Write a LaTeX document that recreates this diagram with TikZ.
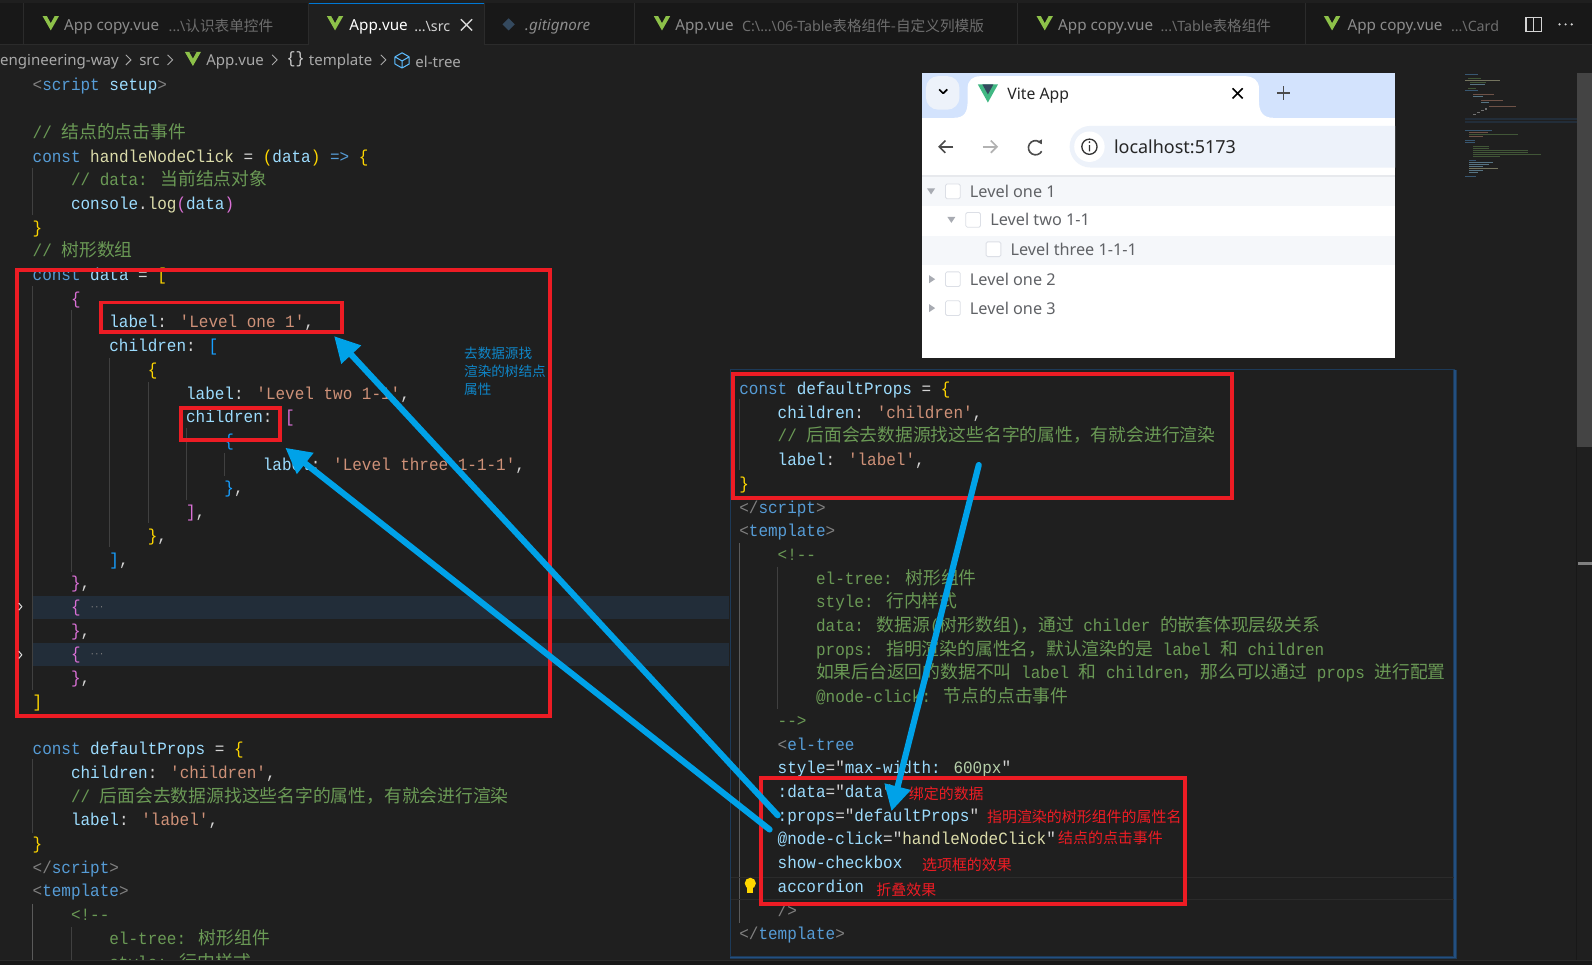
\documentclass[tikz,border=0pt]{standalone}
\usepackage{fontspec}
\setmainfont{Noto Sans}
\newfontfamily\cjk[Scale=1.03]{Noto Sans CJK SC}
\newfontfamily\codefont[FakeStretch=0.926]{Liberation Mono}
\usetikzlibrary{arrows.meta, positioning}

\definecolor{editorbg}{HTML}{1F1F1F}
\definecolor{tabbg}{HTML}{181818}
\definecolor{tabline}{HTML}{2B2B2B}
\definecolor{tabtext}{HTML}{8C8C8C}
\definecolor{tabdim}{HTML}{6E6E6E}
\definecolor{crumbtext}{HTML}{A9A9A9}
\definecolor{guidegray}{HTML}{404040}
\definecolor{guidelight}{HTML}{5A5A5A}
\definecolor{foldband}{HTML}{222D39}
\definecolor{scrollgray}{HTML}{444444}
\definecolor{panelblue}{HTML}{1D3A58}
\definecolor{panelcore}{HTML}{234F80}
\definecolor{vuegreen}{HTML}{8DC149}
\definecolor{redmark}{HTML}{ED1C24}
\definecolor{arrowblue}{HTML}{00A2E8}
\definecolor{notetext}{HTML}{0F86C8}
\definecolor{kwblue}{HTML}{569CD6}
\definecolor{activeblue}{HTML}{0078D4}
\definecolor{varblue}{HTML}{9CDCFE}
\definecolor{fnyellow}{HTML}{DCDCAA}
\definecolor{strorange}{HTML}{CE9178}
\definecolor{numgreen}{HTML}{B5CEA8}
\definecolor{cmtgreen}{HTML}{6A9955}
\definecolor{plaintext}{HTML}{D4D4D4}
\definecolor{tagangle}{HTML}{808080}
\definecolor{brkyellow}{HTML}{FFD700}
\definecolor{brkpink}{HTML}{DA70D6}
\definecolor{brkblue}{HTML}{179FFF}
\definecolor{stripblue}{HTML}{D3E3FD}
\definecolor{pillblue}{HTML}{EDF2FA}
\definecolor{rowgray}{HTML}{F5F7FA}
\definecolor{treetextgray}{HTML}{606266}
\definecolor{treeline}{HTML}{DCDFE6}
\definecolor{treearrow}{HTML}{A8ABB2}
\definecolor{vuedark}{HTML}{34495E}
\definecolor{vuemint}{HTML}{41B883}

\newcommand{\zh}[1]{{\cjk #1}}
\newcommand{\fwc}{{\cjk\char"FF0C\relax}}
\newcommand{\cind}[1]{\hspace*{#1\dimexpr 9.445pt\relax}}
\newcommand{\ckw}[1]{\textcolor{kwblue}{#1}}
\newcommand{\cvar}[1]{\textcolor{varblue}{#1}}
\newcommand{\cfn}[1]{\textcolor{fnyellow}{#1}}
\newcommand{\cstr}[1]{\textcolor{strorange}{#1}}
\newcommand{\ccmt}[1]{\textcolor{cmtgreen}{#1}}
\newcommand{\cpl}[1]{\textcolor{plaintext}{#1}}
\newcommand{\cang}[1]{\textcolor{tagangle}{#1}}
\newcommand{\cyel}[1]{\textcolor{brkyellow}{#1}}
\newcommand{\cpnk}[1]{\textcolor{brkpink}{#1}}
\newcommand{\cblu}[1]{\textcolor{brkblue}{#1}}
\newcommand{\cfold}{\textcolor{tagangle}{\raisebox{3pt}{\fontsize{8}{8}\selectfont\bfseries ···}}}

\tikzset{
  codeblock/.style={anchor=north west, inner sep=0pt, align=left, font=\codefont\fontsize{17}{23.35}\selectfont},
  tablabel/.style={anchor=west, inner sep=0pt, text=tabtext, font=\fontsize{15}{17}\selectfont},
  tabnote/.style={anchor=west, inner sep=0pt, text=tabdim, font=\fontsize{14}{17}\selectfont},
  crumb/.style={anchor=west, inner sep=0pt, text=crumbtext, font=\fontsize{14.8}{17}\selectfont},
  redbox/.style={draw=redmark, line width=3.8pt, anchor=north west, inner sep=0pt, outer sep=0pt},
  rednote/.style={anchor=west, inner sep=0pt, text=redmark, font=\fontsize{14.3}{17}\selectfont},
  bluenote/.style={anchor=north west, inner sep=0pt, align=left, text=notetext, font=\fontsize{13}{17.5}\selectfont},
  bluearrow/.style={draw=arrowblue, line width=6pt, line cap=round, -{Triangle[length=25pt,width=25pt]}},
  guide/.style={draw=guidegray, line width=0.8pt},
  guidebright/.style={draw=guidelight, line width=0.8pt},
  chevron/.style={draw=crumbtext, line width=0.9pt},
  treebox/.style={draw=treeline, fill=white, rounded corners=1.5pt, minimum size=14.5pt, inner sep=0pt, line width=0.8pt},
  treetext/.style={inner sep=0pt, text=treetextgray, font=\fontsize{16}{19}\selectfont},
  navicon/.style={draw=#1, line width=1.6pt},
  vuelogo/.pic={
    \fill[vuegreen] (-8,-7) -- (8,-7) -- (0,7) -- cycle;
    \fill[#1] (-3.6,-7) -- (3.6,-7) -- (0,-0.5) -- cycle;
  },
  vitelogo/.pic={
    \fill[vuemint] (-10,-9) -- (10,-9) -- (0,9) -- cycle;
    \fill[vuedark] (-5.5,-9) -- (5.5,-9) -- (0,1) -- cycle;
  }
}

\begin{document}
\begin{tikzpicture}[x=1pt, y=-1pt]
  \useasboundingbox (0,0) rectangle (1568,950.5);
  \fill[editorbg] (0,0) rectangle (1568,950.5);

  % tab bar
  \fill[tabbg] (0,3) rectangle (1568,44);
  \draw[draw=tabline, line width=1pt] (0,44) -- (1568,44);
  \fill[editorbg] (304,3) rectangle (477,45);
  \draw[draw=activeblue, line width=1pt] (304,3) -- (477,3);
  \foreach \sx in {23,304,477,625,1002,1286}
    \draw[draw=tabline, line width=1pt] (\sx,3) -- (\sx,44);
  \foreach \ix/\ic in {50/tabbg, 330/editorbg, 652/tabbg, 1029/tabbg, 1312/tabbg}
    \pic at (\ix,23) {vuelogo=\ic};
  \node[tablabel] (tabforms) at (63,26) {App copy.vue};
  \node[tabnote, right=9pt of tabforms] (tabformsnote) {...\textbackslash\zh{认识表单控件}};
  \node[tablabel, text=white] (tabmain) at (344,26) {App.vue};
  \node[tabnote, text=plaintext, right=6pt of tabmain] (tabmainnote) {...\textbackslash src};
  \draw[draw=plaintext, line width=1.5pt] (454,19) -- (465,30) (465,19) -- (454,30);
  \fill[vuedark] (501,18) -- (507,24) -- (501,30) -- (495,24) -- cycle;
  \node[tablabel, font=\fontsize{15}{17}\selectfont\itshape] (tabignore) at (517,26) {.gitignore};
  \node[tablabel] (tabcustom) at (665,26) {App.vue};
  \node[tabnote, right=8pt of tabcustom] (tabcustomnote) {C:\textbackslash...\textbackslash 06-Table\zh{表格组件-自定义列模版}};
  \node[tablabel] (tabtable) at (1042,26) {App copy.vue};
  \node[tabnote, right=7pt of tabtable] (tabtablenote) {...\textbackslash Table\zh{表格组件}};
  \node[tablabel] (tabcard) at (1327,26) {App copy.vue};
  \node[tabnote, right=8pt of tabcard] (tabcardnote) {...\textbackslash Card};
  \draw[draw=plaintext, line width=1.2pt] (1503,17) rectangle (1518,31) (1510.5,17) -- (1510.5,31);
  \foreach \dx in {1536,1542,1548}
    \fill[plaintext] (\dx,24) circle (1.2);

  % breadcrumb
  \node[crumb] (crumbroot) at (0,60.5) {engineering-way};
  \node[crumb] (crumbsrc) at (137,60.5) {src};
  \pic at (190,58) {vuelogo=editorbg};
  \node[crumb] (crumbapp) at (203,60.5) {App.vue};
  \node[crumb, font=\codefont\fontsize{16}{17}\selectfont, text=plaintext] (crumbbrace) at (282,58.5) {\{\}};
  \node[crumb] (crumbtemplate) at (304,60.5) {template};
  \node[crumb] (crumbtree) at (409,60.5) {el-tree};
  \foreach \cx in {124,165,268,375}
    \draw[chevron] (\cx,54) -- (\cx+5,59) -- (\cx,64);
  \draw[draw=brkblue!70!white, line width=1pt, line join=round]
    (396,52) -- (403,56) -- (403,63) -- (396,67) -- (389,63) -- (389,56) -- cycle
    (389,56) -- (396,60) -- (403,56) (396,60) -- (396,67);

  % fold bands and scrollbar
  \fill[foldband] (32.5,587) rectangle (718,610);
  \fill[foldband] (32.5,633) rectangle (718,656);
  \fill[scrollgray] (1553,72) rectangle (1568,440);
  \draw[draw=tabbg, line width=0.8pt] (1553,440) -- (1553,946);
  \fill[gray] (1554,554) rectangle (1568,556);

  % minimap
  \fill[foldband] (1443,115.8) rectangle (1553,118);
  \fill[foldband] (1443,119.2) rectangle (1553,121.4);
  \foreach \my/\mx/\ml/\mc in {72.6/1443/13/kwblue, 76.6/1446/13/cmtgreen, 78.6/1443/34/fnyellow, 80.5/1448/16/cmtgreen,
      82.5/1448/15/varblue, 86.5/1446/8/cmtgreen, 88.4/1443/13/kwblue, 92.4/1451/20/strorange, 94.4/1451/10/varblue,
      98.3/1459/21/strorange, 100.3/1459/8/varblue, 104.3/1467/26/strorange, 106.5/1463/2/plaintext, 108/1459/3/plaintext,
      110/1455/3/plaintext, 112/1451/3/plaintext, 128/1443/26/kwblue, 129.8/1447/19/strorange, 131.8/1447/48/cmtgreen,
      133.8/1447/14/strorange, 137.7/1443/10/kwblue, 139.7/1443/10/kwblue, 143.6/1451/16/cmtgreen, 145.6/1451/16/cmtgreen,
      147.6/1451/54/cmtgreen, 149.6/1451/54/cmtgreen, 151.5/1451/67/cmtgreen, 153.5/1451/26/cmtgreen, 157.5/1447/7/kwblue,
      159.5/1447/23/varblue, 161.4/1447/20/varblue, 163.4/1447/14/varblue, 165.4/1447/28/fnyellow, 167.4/1447/14/varblue,
      169.3/1447/9/varblue, 173.3/1443/11/kwblue}
    \fill[\mc!45!editorbg] (\mx,\my) rectangle (\mx+\ml,\my+1.5);

  % indent guides
  \foreach \gx/\gt/\gb in {32/165/212, 32/282/680, 70/305/563, 108/353/539, 146/376/515, 184/422/492,
      221/446/469, 32/748/820, 70/913/946}
    \draw[guide] (\gx,\gt) -- (\gx,\gb);
  \draw[guidebright] (32,890) -- (32,946);

  % left code
  \begin{scope}
    \clip (0,72) rectangle (718,946);
    \node[codeblock] (leftcode) at (32,77) {%
      \cang{<}\ckw{script} \cvar{setup}\cang{>}\\
      \mbox{}\\
      \ccmt{// \zh{结点的点击事件}}\\
      \ckw{const} \cfn{handleNodeClick} \cpl{=} \cyel{(}\cvar{data}\cyel{)} \ckw{=>} \cyel{\{}\\
      \cind{4}\ccmt{// data: \zh{当前结点对象}}\\
      \cind{4}\cvar{console}\cpl{.}\cfn{log}\cpnk{(}\cvar{data}\cpnk{)}\\
      \cyel{\}}\\
      \ccmt{// \zh{树形数组}}\\
      \ckw{const} \cvar{data} \cpl{=} \cyel{[}\\
      \cind{4}\cpnk{\{}\\
      \cind{8}\cvar{label}\cpl{:} \cstr{'Level one 1'}\cpl{,}\\
      \cind{8}\cvar{children}\cpl{:} \cblu{[}\\
      \cind{12}\cyel{\{}\\
      \cind{16}\cvar{label}\cpl{:} \cstr{'Level two 1-1'}\cpl{,}\\
      \cind{16}\cvar{children}\cpl{:} \cpnk{[}\\
      \cind{20}\cblu{\{}\\
      \cind{24}\cvar{label}\cpl{:} \cstr{'Level three 1-1-1'}\cpl{,}\\
      \cind{20}\cblu{\}}\cpl{,}\\
      \cind{16}\cpnk{]}\cpl{,}\\
      \cind{12}\cyel{\}}\cpl{,}\\
      \cind{8}\cblu{]}\cpl{,}\\
      \cind{4}\cpnk{\}}\cpl{,}\\
      \cind{4}\cpnk{\{} \cfold\\
      \cind{4}\cpnk{\}}\cpl{,}\\
      \cind{4}\cpnk{\{} \cfold\\
      \cind{4}\cpnk{\}}\cpl{,}\\
      \cyel{]}\\
      \mbox{}\\
      \ckw{const} \cvar{defaultProps} \cpl{=} \cyel{\{}\\
      \cind{4}\cvar{children}\cpl{:} \cstr{'children'}\cpl{,}\\
      \cind{4}\ccmt{// \zh{后面会去数据源找这些名字的属性}\fwc\zh{有就会进行渲染}}\\
      \cind{4}\cvar{label}\cpl{:} \cstr{'label'}\cpl{,}\\
      \cyel{\}}\\
      \cang{</}\ckw{script}\cang{>}\\
      \cang{<}\ckw{template}\cang{>}\\
      \cind{4}\ccmt{<!--}\\
      \cind{8}\ccmt{el-tree: \zh{树形组件}}\\
      \cind{8}\ccmt{style: \zh{行内样式}}};
  \end{scope}
  \fill[tabbg] (0,946) rectangle (1568,950.5);
  \draw[draw=tabline, line width=0.8pt] (0,946) -- (1568,946);

  % browser
  \fill[white] (908,72) rectangle (1374,353);
  \fill[stripblue] (908,72) rectangle (1374,116);
  \fill[white] (940,116) .. controls (950,116) and (953,110) .. (953,100) -- (953,87)
    .. controls (953,79) and (958,75) .. (966,75) -- (1226,75)
    .. controls (1234,75) and (1240,79) .. (1240,87) -- (1240,100)
    .. controls (1240,110) and (1244,116) .. (1254,116) -- cycle;
  \fill[pillblue, rounded corners=12] (912,75) rectangle (945,108);
  \draw[navicon=black, line join=round] (925,88) -- (929,92) -- (933,88);
  \pic at (973,92) {vitelogo};
  \node[anchor=west, inner sep=0pt, text=black!85, font=\fontsize{15.5}{18}\selectfont] (browsertab) at (992,94) {Vite App};
  \draw[navicon=black] (1214,87) -- (1224,97) (1224,87) -- (1214,97);
  \draw[navicon=black!70] (1264,85) -- (1264,98) (1257.5,91.5) -- (1270.5,91.5);
  \fill[pillblue] (1374,124) -- (1074,124) arc[start angle=-90, end angle=-270, radius=20.5] -- (1374,165) -- cycle;
  \fill[white] (1073,144.5) circle (15);
  \draw[navicon=black!80, line width=1.3pt] (1073,144.5) circle (7.5) (1073,143) -- (1073,149);
  \fill[black!80] (1073,140) circle (1);
  \draw[navicon=black!70, -{Straight Barb[length=6pt,width=12pt]}] (939,144.5) -- (924,144.5);
  \draw[navicon=black!30, -{Straight Barb[length=6pt,width=12pt]}] (968,144.5) -- (983,144.5);
  \draw[navicon=black!70, -{Triangle[length=4pt,width=5pt]}] (1026,149) arc[start angle=30, end angle=330, radius=7];
  \node[anchor=west, inner sep=0pt, text=black!85, font=\fontsize{17.7}{22}\selectfont] (browserurl) at (1097,144.5) {localhost:5173};
  \fill[treeline!70!white] (908,172) rectangle (1374,174.5);

  % tree rows
  \fill[rowgray] (908,174.5) rectangle (1374,203);
  \fill[rowgray] (908,232) rectangle (1374,261);
  \foreach \rowname/\rowx/\rowy/\rowtext in {one/938.5/188.5/Level one 1, two/958.5/216.5/Level two 1-1,
      three/978.5/245.5/Level three 1-1-1, second/938.5/275/Level one 2, third/938.5/303.5/Level one 3}{
    \node[treebox] (check\rowname) at (\rowx,\rowy) {};
    \node[treetext, right=9pt of check\rowname] (row\rowname) {\rowtext};
  }
  \fill[treearrow] (913,185.5) -- (921,185.5) -- (917,191.5) -- cycle;
  \fill[treearrow] (933,213.5) -- (941,213.5) -- (937,219.5) -- cycle;
  \fill[treearrow] (915,271) -- (921,275) -- (915,279) -- cycle;
  \fill[treearrow] (915,299.5) -- (921,303.5) -- (915,307.5) -- cycle;

  % right panel
  \fill[editorbg] (719,364) rectangle (1433,943);
  \draw[draw=panelblue, line width=1pt] (719,943) -- (719,364) -- (1433,364);
  \draw[draw=panelblue, line width=3.5pt] (1433,364) -- (1433,943) -- (719,943);
  \draw[draw=panelcore, line width=1.4pt] (1433,364) -- (1433,943) -- (719,943);
  \foreach \gx/\gt/\gb in {728/393/463, 765.5/558/698}
    \draw[guide] (\gx,\gt) -- (\gx,\gb);
  \draw[guidebright] (728,535) -- (728,909);
  \draw[draw=tabline, line width=1pt] (720,864) -- (1432,864) (720,885.5) -- (1432,885.5);
  \node[codeblock] (rightcode) at (728,376) {%
    \ckw{const} \cvar{defaultProps} \cpl{=} \cyel{\{}\\
    \cind{4}\cvar{children}\cpl{:} \cstr{'children'}\cpl{,}\\
    \cind{4}\ccmt{// \zh{后面会去数据源找这些名字的属性}\fwc\zh{有就会进行渲染}}\\
    \cind{4}\cvar{label}\cpl{:} \cstr{'label'}\cpl{,}\\
    \cyel{\}}\\
    \cang{</}\ckw{script}\cang{>}\\
    \cang{<}\ckw{template}\cang{>}\\
    \cind{4}\ccmt{<!--}\\
    \cind{8}\ccmt{el-tree: \zh{树形组件}}\\
    \cind{8}\ccmt{style: \zh{行内样式}}\\
    \cind{8}\ccmt{data: \zh{数据源}(\zh{树形数组})\fwc\zh{通过} childer \zh{的嵌套体现层级关系}}\\
    \cind{8}\ccmt{props: \zh{指明渲染的属性名}\fwc\zh{默认渲染的是} label \zh{和} children}\\
    \cind{8}\ccmt{\zh{如果后台返回的数据不叫} label \zh{和} children\fwc\zh{那么可以通过} props \zh{进行配置}}\\
    \cind{8}\ccmt{@node-click: \zh{节点的点击事件}}\\
    \cind{4}\ccmt{-->}\\
    \cind{4}\cang{<}\ckw{el-tree}\\
    \cind{4}\cvar{style}\cpl{="}\cvar{max-width:} \textcolor{numgreen}{600px}\cpl{"}\\
    \cind{4}\cvar{:data}\cpl{="}\cvar{data}\cpl{"}\\
    \cind{4}\cvar{:props}\cpl{="}\cvar{defaultProps}\cpl{"}\\
    \cind{4}\cvar{@node-click}\cpl{="}\cfn{handleNodeClick}\cpl{"}\\
    \cind{4}\cvar{show-checkbox}\\
    \cind{4}\cvar{accordion}\\
    \cind{4}\cang{/>}\\
    \cang{</}\ckw{template}\cang{>}};
  \fill[brkyellow] (739,870) circle (5.5);
  \fill[brkyellow] (736,874) rectangle (742,880);

  % red marks
  \node[redbox, minimum width=525.5pt, minimum height=439pt] (boxdata) at (16.5,266.3) {};
  \node[redbox, minimum width=237.4pt, minimum height=29pt] (boxlabel) at (99.6,298) {};
  \node[redbox, minimum width=97.5pt, minimum height=32.1pt] (boxchildren) at (178.5,401.5) {};
  \node[redbox, minimum width=491.9pt, minimum height=122.6pt] (boxprops) at (721.7,368) {};
  \node[redbox, minimum width=417.5pt, minimum height=124pt] (boxattrs) at (749.5,766) {};
  \draw[draw=plaintext!85, line width=1pt] (18.5,594) -- (21.5,597.5) -- (18.5,601) (18.5,641.5) -- (21.5,645) -- (18.5,648.5);

  % notes
  \node[bluenote] (notesource) at (457,342) {\zh{去数据源找}\\\zh{渲染的树结点}\\\zh{属性}};
  \node[rednote] (notedata) at (895,782) {\zh{绑定的数据}};
  \node[rednote] (noteprops) at (972,805) {\zh{指明渲染的树形组件的属性名}};
  \node[rednote] (noteclick) at (1042,825) {\zh{结点的点击事件}};
  \node[rednote] (notecheck) at (908,852) {\zh{选项框的效果}};
  \node[rednote] (noteaccordion) at (863,876) {\zh{折叠效果}};

  % blue arrows
  \coordinate (taillabel) at (766,803);
  \coordinate (tiplabel) at (329,331);
  \coordinate (tailchildren) at (758,817);
  \coordinate (tipchildren) at (281,441);
  \coordinate (tailprops) at (964,458);
  \coordinate (tipprops) at (878,799);
  \draw[bluearrow] (taillabel) -- (tiplabel);
  \draw[bluearrow] (tailchildren) -- (tipchildren);
  \draw[bluearrow] (tailprops) -- (tipprops);
\end{tikzpicture}
\end{document}
